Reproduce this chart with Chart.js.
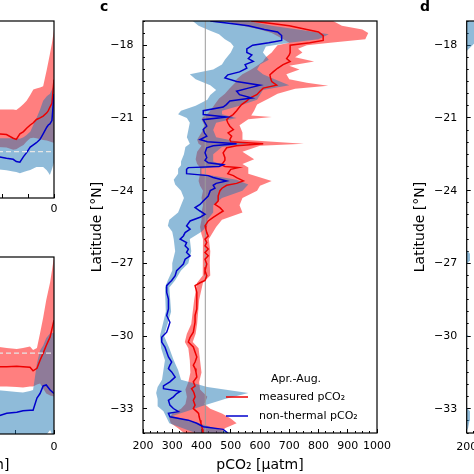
<!DOCTYPE html>
<html>
<head>
<meta charset="utf-8">
<title>pCO2 profiles</title>
<script src="https://cdn.jsdelivr.net/npm/chart.js@4.4.1/dist/chart.umd.min.js"></script>
<style>
  html, body { margin: 0; padding: 0; background: #fff; }
  body { position: relative; width: 474px; height: 474px; overflow: hidden; }
  canvas { position: absolute; }
  #panelA { left: -300px; top: 0; }
  #panelB { left: -300px; top: 230px; }
  #panelC { left: 0; top: 0; }
  #panelD { left: 380px; top: 0; }
</style>
</head>
<body>
<canvas id="panelA" width="380" height="236"></canvas>
<canvas id="panelB" width="380" height="244"></canvas>
<canvas id="panelC" width="474" height="474"></canvas>
<canvas id="panelD" width="330" height="474"></canvas>
<script>
// ---- panel c: latitude profiles (Apr.-Aug.) ----
const latitude = [-17.0, -17.1, -17.2, -17.35, -17.45, -17.6, -17.8, -17.9, -18.0, -18.15, -18.3, -18.4, -18.55, -18.67, -18.8, -18.95,
  -19.1, -19.22, -19.35, -19.5, -19.65, -19.77, -19.9, -20.04, -20.18, -20.3, -20.45, -20.55, -20.7, -20.86, -20.96, -21.07,
  -21.2, -21.34, -21.48, -21.62, -21.75, -21.89, -21.98, -22.06, -22.15, -22.23, -22.44, -22.64, -22.75, -22.85, -22.93, -23.0,
  -23.05, -23.12, -23.3, -23.38, -23.46, -23.6, -23.7, -23.78, -23.9, -24.0, -24.22, -24.43, -24.57, -24.7, -24.84, -24.97,
  -25.1, -25.25, -25.45, -25.59, -25.73, -25.87, -26.0, -26.14, -26.28, -26.41, -26.55, -26.69, -26.83, -27.03, -27.16, -27.3,
  -27.51, -27.71, -27.8, -27.92, -28.2, -28.47, -28.88, -29.15, -29.43, -29.63, -29.84, -30.05, -30.25, -30.45, -30.66, -30.86,
  -31.07, -31.2, -31.34, -31.48, -31.69, -31.89, -32.06, -32.17, -32.28, -32.37, -32.51, -32.65, -32.85, -32.99, -33.12, -33.19,
  -33.33, -33.47, -33.6, -33.74, -33.85, -34.0];
const measuredPco2 = [570, 640, 700, 760, 800, 816, 816, 770, 703, 703, 703, 700, 691, 703, 679, 660,
  645, 634, 636, 640, 657, 611, 600, 589, 565, 555, 537, 530, 520, 508, 495, 486,
  490, 497, 509, 491, 503, 497, 500, 611, 520, 486, 474, 480, 480, 474, 468, 480,
  526, 500, 490, 509, 520, 543, 520, 486, 470, 463, 457, 457, 446, 463, 474, 457,
  440, 423, 412, 415, 418, 423, 412, 418, 412, 423, 412, 423, 412, 418, 415, 412,
  418, 412, 395, 378, 384, 384, 384, 378, 378, 375, 372, 361, 355, 372, 378, 384,
  378, 372, 378, 381, 384, 372, 378, 366, 372, 375, 378, 372, 378, 372, 384, 390,
  392, 395, 398, 401, 403, 405];
const nonThermalPco2 = [430, 500, 560, 615, 660, 674, 674, 630, 575, 555, 555, 572, 560, 577, 549, 555,
  530, 490, 480, 520, 600, 560, 520, 530, 572, 497, 485, 474, 406, 406, 486, 406,
  412, 418, 406, 410, 418, 395, 420, 520, 440, 418, 412, 418, 412, 423, 474, 460,
  355, 349, 349, 423, 440, 486, 450, 440, 446, 430, 423, 406, 395, 378, 395, 412,
  395, 361, 349, 361, 344, 338, 327, 349, 344, 355, 349, 361, 344, 338, 327, 315,
  310, 298, 290, 281, 281, 287, 287, 281, 292, 287, 281, 264, 264, 275, 281, 287,
  298, 292, 287, 298, 310, 292, 270, 270, 327, 315, 304, 287, 292, 304, 321, 287,
  292, 355, 384, 406, 474, 490];

const measuredBandLat = [-17.0, -17.2, -17.35, -17.5, -17.75, -17.9, -18.0, -18.15, -18.3, -18.5, -18.67, -18.85, -19.0, -19.2,
  -19.4, -19.55, -19.67, -19.8, -20.0, -20.2, -20.45, -20.7, -20.9, -20.96, -21.05, -21.3, -21.6, -21.9, -22.06, -22.15,
  -22.4, -22.7, -22.9, -23.05, -23.3, -23.6, -23.8, -24.0, -24.3, -24.6, -24.9, -25.2, -25.5, -25.8, -26.0, -26.5,
  -27.0, -27.5, -27.8, -28.5, -29.5, -29.9, -30.25, -30.5, -31.0, -31.5, -31.9, -32.2, -32.5, -32.8, -33.0, -33.2,
  -33.4, -33.6, -33.8, -34.0];
const measuredBandLow = [480, 540, 600, 640, 680, 700, 660, 650, 640, 620, 610, 590, 570, 540,
  520, 515, 505, 495, 480, 460, 445, 430, 415, 405, 400, 410, 400, 385, 390, 400,
  385, 380, 385, 395, 395, 390, 395, 405, 400, 405, 400, 400, 395, 400, 405, 403,
  405, 405, 385, 375, 365, 350, 343, 355, 360, 362, 355, 345, 350, 345, 330, 300,
  290, 295, 320, 340];
const measuredBandHigh = [850, 880, 950, 970, 960, 840, 760, 730, 745, 720, 785, 700, 735, 690,
  700, 760, 833, 720, 660, 630, 590, 580, 570, 640, 560, 530, 540, 540, 750, 600,
  540, 580, 540, 560, 560, 640, 600, 590, 540, 530, 540, 470, 450, 435, 425, 430,
  428, 430, 405, 392, 385, 380, 370, 390, 395, 400, 392, 395, 420, 410, 430, 470,
  500, 520, 480, 470];

const nonThermalBandLat = [-17.0, -17.2, -17.4, -17.55, -17.75, -17.9, -18.05, -18.3, -18.6, -18.8, -19.0, -19.2,
  -19.4, -19.65, -19.85, -20.05, -20.25, -20.5, -20.7, -20.85, -21.0, -21.2, -21.5, -21.8,
  -22.06, -22.2, -22.5, -22.8, -22.95, -23.1, -23.3, -23.55, -23.75, -24.0, -24.3, -24.6,
  -24.9, -25.2, -25.45, -25.7, -26.0, -26.5, -27.0, -27.3, -27.7, -28.0, -29.0, -30.0,
  -30.5, -31.0, -31.4, -31.8, -32.1, -32.35, -32.6, -32.9, -33.1, -33.3, -33.6, -34.0];
const nonThermalBandLow = [370, 390, 430, 460, 480, 500, 510, 500, 480, 470, 440, 360,
  380, 430, 450, 430, 420, 380, 330, 320, 350, 360, 355, 350,
  360, 345, 340, 330, 330, 320, 320, 305, 310, 330, 340, 330,
  320, 290, 285, 300, 305, 310, 300, 300, 285, 275, 278, 258,
  262, 275, 270, 265, 250, 245, 250, 250, 270, 278, 290, 380];
const nonThermalBandHigh = [560, 640, 760, 835, 800, 700, 620, 610, 630, 600, 590, 610,
  650, 700, 610, 600, 590, 530, 470, 470, 520, 450, 440, 450,
  560, 470, 440, 440, 480, 400, 400, 520, 560, 540, 470, 440,
  440, 420, 420, 400, 360, 365, 355, 330, 310, 290, 296, 272,
  290, 305, 320, 330, 420, 560, 480, 400, 350, 300, 390, 500];

const atmosphericPco2 = 413;
const latTicks = [-33, -30, -27, -24, -21, -18];
const pco2Ticks = [200, 300, 400, 500, 600, 700, 800, 900, 1000];

// ---- panels a, b: sections towards the coast (only the right edge is in view) ----
const distA = [-110, -92, -79, -73, -66, -59, -53, -46, -40, -34, -27, -21, -14, -11, -8, -4, 0];
const measuredA = [490, 487, 470, 465, 490, 500, 515, 530, 540, 555, 562, 570, 585, 595, 610, 628, 735];
const nonThermalA = [388, 380, 375, 365, 362, 387, 405, 430, 440, 450, 465, 490, 520, 530, 535, 550, 670];
const measuredLowA = [430, 428, 418, 420, 430, 440, 455, 470, 472, 470, 466, 462, 460, 458, 455, 452, 450];
const measuredHighA = [600, 600, 600, 598, 610, 625, 640, 665, 690, 695, 700, 705, 780, 815, 850, 900, 960];
const nonThermalLowA = [330, 325, 320, 318, 312, 318, 322, 327, 333, 340, 340, 340, 325, 315, 304, 330, 360];
const nonThermalHighA = [470, 470, 470, 470, 468, 475, 485, 500, 530, 560, 600, 640, 660, 665, 670, 690, 710];
const distTicksA = [-450, -400, -350, -300, -250, -200, -150, -100, -50, 0];

const distB = [-75, -61, -48, -40, -31, -27, -22, -18, -14, -10, -5, 0];
const measuredB = [383, 383, 384, 383, 382, 375, 380, 396, 410, 425, 442, 475];
const nonThermalB = [284, 291, 293, 296, 297, 297, 321, 330, 345, 347, 337, 330];
const measuredLowB = [344, 344, 343, 342, 344, 344, 348, 350, 340, 330, 326, 324];
const measuredHighB = [423, 420, 418, 420, 423, 416, 420, 449, 480, 515, 550, 600];
const nonThermalLowB = [245, 245, 245, 245, 245, 245, 245, 245, 245, 248, 258, 240];
const nonThermalHighB = [337, 335, 333, 332, 335, 337, 390, 415, 425, 440, 449, 450];
const distTicksB = [-300, -250, -200, -150, -100, -50, 0];
const atmosphericSection = 410;

// ---- panel d: only its left edge is in view ----
const latD = [-17.0, -17.5, -17.9, -18.1, -18.3, -26.4, -26.6, -26.9, -27.1, -29.9, -30.0, -30.1, -32.9, -33.1, -33.5, -33.8, -34.0];
const nonThermalLowD = [150, 150, 150, 150, 150, 150, 150, 150, 150, 150, 150, 150, 150, 150, 150, 150, 150];
const nonThermalHighD = [240, 240, 230, 212, 195, 195, 212, 210, 195, 195, 207, 195, 195, 212, 210, 205, 195];

const FONT = "'DejaVu Sans', sans-serif";
const RED = '#ee0000';
const BLUE = '#0000cc';
const RED_BAND = 'rgba(255, 0, 0, 0.5)';
const BLUE_BAND = 'rgba(31, 119, 180, 0.5)';

Chart.defaults.font.family = FONT;
Chart.defaults.font.size = 11;
Chart.defaults.color = '#000';
Chart.defaults.animation = false;
Chart.defaults.events = [];
Chart.defaults.plugins.legend.display = false;
Chart.defaults.plugins.tooltip.enabled = false;
Chart.defaults.elements.point.radius = 0;
Chart.defaults.elements.line.tension = 0;

const minus = v => (v < 0 ? '\u2212' + Math.abs(v) : String(v));

// vertical profile: x = pCO2, y = latitude
const profile = (lat, vals) => lat.map((y, i) => ({x: vals[i], y}));
const section = (dist, vals) => dist.map((x, i) => ({x, y: vals[i]}));

// closed polygon (low edge forward, high edge back) filled with fill:'shape'
function latBand(lat, lo, hi) {
  const pts = lat.map((y, i) => ({x: lo[i], y}));
  for (let i = lat.length - 1; i >= 0; i--) pts.push({x: hi[i], y: lat[i]});
  return pts;
}
function distBand(dist, lo, hi) {
  const pts = dist.map((x, i) => ({x, y: lo[i]}));
  for (let i = dist.length - 1; i >= 0; i--) pts.push({x: dist[i], y: hi[i]});
  return pts;
}

const lineSet = (label, data, color, order, extra) => Object.assign(
  {label, data, showLine: true, borderColor: color, borderWidth: 1.5, order}, extra || {});
const bandSet = (data, color, order) => ({
  data, showLine: true, fill: 'shape', backgroundColor: color,
  borderColor: 'transparent', borderWidth: 0, order
});

// axis with inward ticks, size fixed so the plot frames line up
function majorAxis(position, min, max, tickValues, size, opts) {
  const vertical = position === 'left';
  return {
    type: 'linear', position, min, max, z: 1, weight: 1,
    afterBuildTicks: s => { s.ticks = tickValues.map(value => ({value})); },
    afterFit: s => { if (vertical) s.width = size; else s.height = size; },
    grid: {drawOnChartArea: false, tickLength: -4, tickColor: '#000', tickWidth: 1},
    border: {display: false},
    ticks: {autoSkip: false, maxRotation: 0, padding: opts.pad, callback: opts.label || minus},
    title: opts.title
      ? {display: true, text: opts.title, font: {size: 14}, padding: {top: 4, bottom: 0}}
      : {display: false}
  };
}
function minorAxis(position, min, max, step) {
  const vertical = position === 'left';
  return {
    type: 'linear', position, min, max, z: 1, weight: 0,
    afterFit: s => { if (vertical) s.width = 0; else s.height = 0; },
    grid: {drawOnChartArea: false, tickLength: -2, tickColor: '#000', tickWidth: 1},
    border: {display: false},
    ticks: {display: false, stepSize: step}
  };
}

const framePlugin = {
  id: 'frame',
  afterDraw(chart) {
    const {ctx, chartArea: a} = chart;
    ctx.save();
    ctx.strokeStyle = '#000';
    ctx.lineWidth = 1.2;
    ctx.strokeRect(a.left, a.top, a.right - a.left, a.bottom - a.top);
    ctx.restore();
  }
};

const panelLetter = {
  id: 'panelLetter',
  afterDraw(chart, args, opts) {
    if (!opts.text) return;
    const {ctx, chartArea: a} = chart;
    ctx.save();
    ctx.font = 'bold 14px ' + FONT;
    ctx.fillStyle = '#000';
    ctx.textAlign = 'left';
    ctx.textBaseline = 'middle';
    ctx.fillText(opts.text, a.left + opts.dx, a.top + opts.dy);
    ctx.restore();
  }
};

// legend inside the lower right corner of panel c
const profileLegend = {
  id: 'profileLegend',
  afterDraw(chart, args, opts) {
    if (!opts.items) return;
    const {ctx, chartArea: a} = chart;
    ctx.save();
    ctx.font = '11px ' + FONT;
    ctx.fillStyle = '#000';
    ctx.textBaseline = 'middle';
    ctx.textAlign = 'center';
    ctx.fillText(opts.title, a.right - 81, a.bottom - 54);
    ctx.textAlign = 'left';
    opts.items.forEach((idx, row) => {
      const ds = chart.data.datasets[idx];
      const y = a.bottom - 36 + row * 19;
      ctx.strokeStyle = ds.borderColor;
      ctx.lineWidth = ds.borderWidth;
      ctx.beginPath();
      ctx.moveTo(a.right - 151, y);
      ctx.lineTo(a.right - 129, y);
      ctx.stroke();
      ctx.fillText(ds.label, a.right - 118, y);
    });
    ctx.restore();
  }
};

const plugins = [framePlugin, panelLetter, profileLegend];

// panel c
new Chart(document.getElementById('panelC'), {
  type: 'scatter',
  data: {
    datasets: [
      lineSet('non-thermal pCO\u2082', profile(latitude, nonThermalPco2), BLUE, 0),
      lineSet('measured pCO\u2082', profile(latitude, measuredPco2), RED, 1),
      lineSet('atmosphere', [{x: atmosphericPco2, y: -34}, {x: atmosphericPco2, y: -17}], '#9a9a9a', 2, {borderWidth: 1}),
      bandSet(latBand(nonThermalBandLat, nonThermalBandLow, nonThermalBandHigh), BLUE_BAND, 3),
      bandSet(latBand(measuredBandLat, measuredBandLow, measuredBandHigh), RED_BAND, 4)
    ]
  },
  options: {
    responsive: false,
    layout: {padding: {left: 85, top: 21, right: 97, bottom: 0}},
    scales: {
      x: majorAxis('bottom', 200, 1000, pco2Ticks, 41, {pad: 11, title: 'pCO\u2082 [\u03bcatm]'}),
      xMinor: minorAxis('bottom', 200, 1000, 25),
      y: majorAxis('left', -34, -17, latTicks, 58, {pad: 13.5, title: 'Latitude [\u00b0N]'}),
      yMinor: minorAxis('left', -34, -17, 0.5)
    },
    plugins: {
      panelLetter: {text: 'c', dx: -43, dy: -14},
      profileLegend: {title: 'Apr.-Aug.', items: [1, 0]}
    }
  },
  plugins
});

// panel d
new Chart(document.getElementById('panelD'), {
  type: 'scatter',
  data: {
    datasets: [
      bandSet(latBand(latD, nonThermalLowD, nonThermalHighD), BLUE_BAND, 0)
    ]
  },
  options: {
    responsive: false,
    layout: {padding: {left: 27.6, top: 21, right: 9.3, bottom: 0}},
    scales: {
      x: majorAxis('bottom', 200, 1000, pco2Ticks, 41, {pad: 11.5, title: 'pCO\u2082 [\u03bcatm]'}),
      xMinor: minorAxis('bottom', 200, 1000, 25),
      y: majorAxis('left', -34, -17, latTicks, 59.1, {pad: 13.5, title: 'Latitude [\u00b0N]'}),
      yMinor: minorAxis('left', -34, -17, 0.5)
    },
    plugins: {panelLetter: {text: 'd', dx: -46.7, dy: -14}}
  },
  plugins
});

// panels a and b
function sectionChart(id, cfg) {
  const lastTick = cfg.ticks[cfg.ticks.length - 1];
  return new Chart(document.getElementById(id), {
    type: 'scatter',
    data: {
      datasets: [
        lineSet('atmosphere', [{x: cfg.xmin, y: atmosphericSection}, {x: lastTick, y: atmosphericSection}],
          '#e6e6e6', 0, {borderWidth: 1.2, borderDash: [5, 3]}),
        lineSet('non-thermal pCO\u2082', section(cfg.dist, cfg.nonThermal), BLUE, 1),
        lineSet('measured pCO\u2082', section(cfg.dist, cfg.measured), RED, 2),
        bandSet(distBand(cfg.dist, cfg.ntLow, cfg.ntHigh), BLUE_BAND, 3),
        bandSet(distBand(cfg.dist, cfg.mLow, cfg.mHigh), RED_BAND, 4)
      ]
    },
    options: {
      responsive: false,
      layout: {padding: {left: 106, top: cfg.top, right: 26, bottom: 0}},
      scales: {
        x: majorAxis('bottom', cfg.xmin, lastTick, cfg.ticks, cfg.axisHeight,
          {pad: cfg.pad, title: cfg.title, label: v => (v % cfg.labelEvery === 0 ? minus(v) : '')}),
        y: {type: 'linear', display: false, min: cfg.ymin, max: cfg.ymax}
      }
    },
    plugins
  });
}

sectionChart('panelA', {
  dist: distA, measured: measuredA, nonThermal: nonThermalA,
  mLow: measuredLowA, mHigh: measuredHighA, ntLow: nonThermalLowA, ntHigh: nonThermalHighA,
  ticks: distTicksA, xmin: -480, ymin: 200, ymax: 1000, labelEvery: 200,
  top: 21, axisHeight: 38, pad: 9, title: null
});
sectionChart('panelB', {
  dist: distB, measured: measuredB, nonThermal: nonThermalB,
  mLow: measuredLowB, mHigh: measuredHighB, ntLow: nonThermalLowB, ntHigh: nonThermalHighB,
  ticks: distTicksB, xmin: -320, ymin: 250, ymax: 600, labelEvery: 100,
  top: 27, axisHeight: 40, pad: 10.5, title: 'Distance to coast [km]'
});
</script>
</body>
</html>
